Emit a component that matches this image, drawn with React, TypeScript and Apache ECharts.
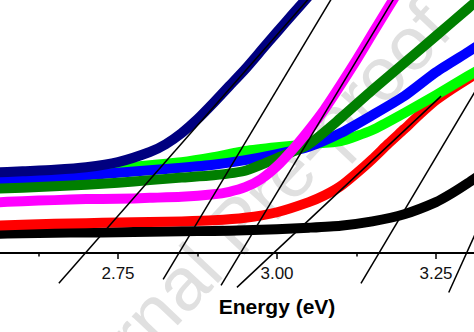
import React, { useEffect, useRef } from "react";
import * as echarts from "echarts";

// Energy (eV) vs (αhν)² (a.u.)
const navy = [[2.55,3.17],[2.60,3.23],[2.65,3.29],[2.70,3.39],[2.75,3.59],[2.80,3.99],[2.825,4.30],[2.85,4.74],[2.875,5.29],[2.90,5.93],[2.925,6.60],[2.95,7.27],[2.975,8.00],[3.00,8.73],[3.025,9.45],[3.05,10.16]];
const lightGreen = [[2.55,3.11],[2.60,3.15],[2.65,3.19],[2.70,3.25],[2.75,3.35],[2.80,3.47],[2.85,3.59],[2.90,3.79],[2.95,4.03],[3.00,4.18],[3.05,4.30],[3.10,4.42],[3.15,4.86],[3.20,5.53],[3.25,6.24],[3.30,6.99],[3.325,7.35]];
const blue = [[2.55,2.90],[2.60,2.94],[2.65,3.00],[2.70,3.07],[2.75,3.17],[2.80,3.27],[2.85,3.37],[2.90,3.49],[2.95,3.67],[3.00,3.91],[3.05,4.20],[3.10,4.74],[3.15,5.45],[3.20,6.20],[3.25,7.15],[3.30,7.94],[3.325,8.34]];
const darkGreen = [[2.55,2.54],[2.60,2.58],[2.65,2.64],[2.70,2.70],[2.75,2.78],[2.80,2.88],[2.85,2.98],[2.90,3.07],[2.95,3.25],[3.00,3.75],[3.05,4.30],[3.10,5.33],[3.15,6.44],[3.20,7.51],[3.25,8.58],[3.30,9.66],[3.325,10.20]];
const magenta = [[2.55,1.99],[2.60,2.05],[2.65,2.09],[2.70,2.13],[2.75,2.14],[2.80,2.18],[2.85,2.22],[2.90,2.32],[2.925,2.42],[2.95,2.60],[2.975,2.92],[3.00,3.43],[3.025,4.10],[3.05,4.86],[3.075,5.69],[3.10,6.64],[3.125,7.63],[3.15,8.67],[3.175,9.70],[3.20,10.71]];
const red = [[2.55,1.08],[2.60,1.12],[2.65,1.16],[2.70,1.18],[2.75,1.21],[2.80,1.23],[2.85,1.25],[2.90,1.29],[2.95,1.39],[3.00,1.61],[3.05,2.01],[3.075,2.28],[3.10,2.64],[3.125,3.15],[3.15,3.71],[3.175,4.32],[3.20,4.90],[3.225,5.49],[3.25,6.04],[3.275,6.48],[3.30,6.88],[3.325,7.27]];
const black = [[2.55,0.76],[2.60,0.78],[2.65,0.80],[2.70,0.81],[2.75,0.82],[2.80,0.84],[2.85,0.86],[2.90,0.87],[2.95,0.90],[3.00,0.94],[3.05,1.00],[3.10,1.08],[3.15,1.25],[3.20,1.53],[3.25,2.01],[3.275,2.36],[3.30,2.76],[3.325,3.19]];

// tangent (band-gap extrapolation) lines
const tangents = [
  [[2.657,-1.20],[3.062,10.40]],
  [[2.821,-1.04],[3.094,10.40]],
  [[2.912,-1.28],[3.192,10.40]],
  [[2.937,-1.36],[3.258,6.20]],
  [[3.132,-1.20],[3.397,10.0]],
  [[3.270,-1.56],[3.407,6.04]],
];

const xTicks = { min: 2.5, max: 3.5, interval: 0.25 };
const FONT = '"Liberation Sans", Arial, Helvetica, sans-serif';

export default function App() {
  const ref = useRef<HTMLDivElement>(null);
  useEffect(() => {
    document.body.style.margin = "0";
    const chart = echarts.init(ref.current!, null, { renderer: "svg" });
    const curves: [number[][], string][] = [
      [black, "#000000"],
      [red, "#ff0000"],
      [lightGreen, "#00ff00"],
      [blue, "#0000ff"],
      [darkGreen, "#007f00"],
      [navy, "#000080"],
      [magenta, "#ff00ff"],
    ];
    chart.setOption({
      animation: false,
      backgroundColor: "#ffffff",
      grid: { left: -41, width: 636, top: 0, bottom: 79, outerBoundsMode: "none", containLabel: false },
      graphic: {
        elements: [
          {
            type: "text",
            x: 237,
            y: 225,
            rotation: 0.813,
            z: 0,
            silent: true,
            style: {
              text: "Journal Pre-proof",
              fontSize: 75,
              fontFamily: FONT,
              fill: "#e0e0e0",
              align: "center",
              verticalAlign: "middle",
            },
          },
        ],
      },
      xAxis: {
        type: "value",
        min: xTicks.min,
        max: xTicks.max,
        interval: xTicks.interval,
        name: "Energy (eV)",
        nameLocation: "middle",
        nameGap: 43,
        nameTextStyle: { fontSize: 21, fontWeight: "bold", color: "#000", fontFamily: FONT },
        axisLine: { onZero: false, lineStyle: { color: "#000", width: 2 } },
        axisTick: { inside: false, length: 6, lineStyle: { color: "#000", width: 1.5 } },
        minorTick: { show: true, splitNumber: 2, length: 3.5, lineStyle: { color: "#000", width: 1.5 } },
        axisLabel: {
          color: "#111",
          fontSize: 17,
          fontFamily: FONT,
          margin: 12,
          showMinLabel: false,
          showMaxLabel: false,
          formatter: (v: number) => v.toFixed(2),
        },
        splitLine: { show: false },
      },
      yAxis: { type: "value", min: 0, max: 10, show: false, splitLine: { show: false } },
      series: [
        ...curves.map(([d, c], i) => ({
          type: "line",
          data: d,
          symbol: "none",
          showSymbol: false,
          smooth: 0.2,
          z: 3 + i,
          silent: true,
          lineStyle: { color: c, width: 10, join: "round" },
        })),
        ...tangents.map((d) => ({
          type: "line",
          data: d,
          symbol: "none",
          showSymbol: false,
          clip: false,
          z: 20,
          silent: true,
          lineStyle: { color: "#000", width: 1.5 },
        })),
      ],
    });
    return () => chart.dispose();
  }, []);
  return <div ref={ref} style={{ width: 474, height: 332, background: "#fff" }} />;
}
